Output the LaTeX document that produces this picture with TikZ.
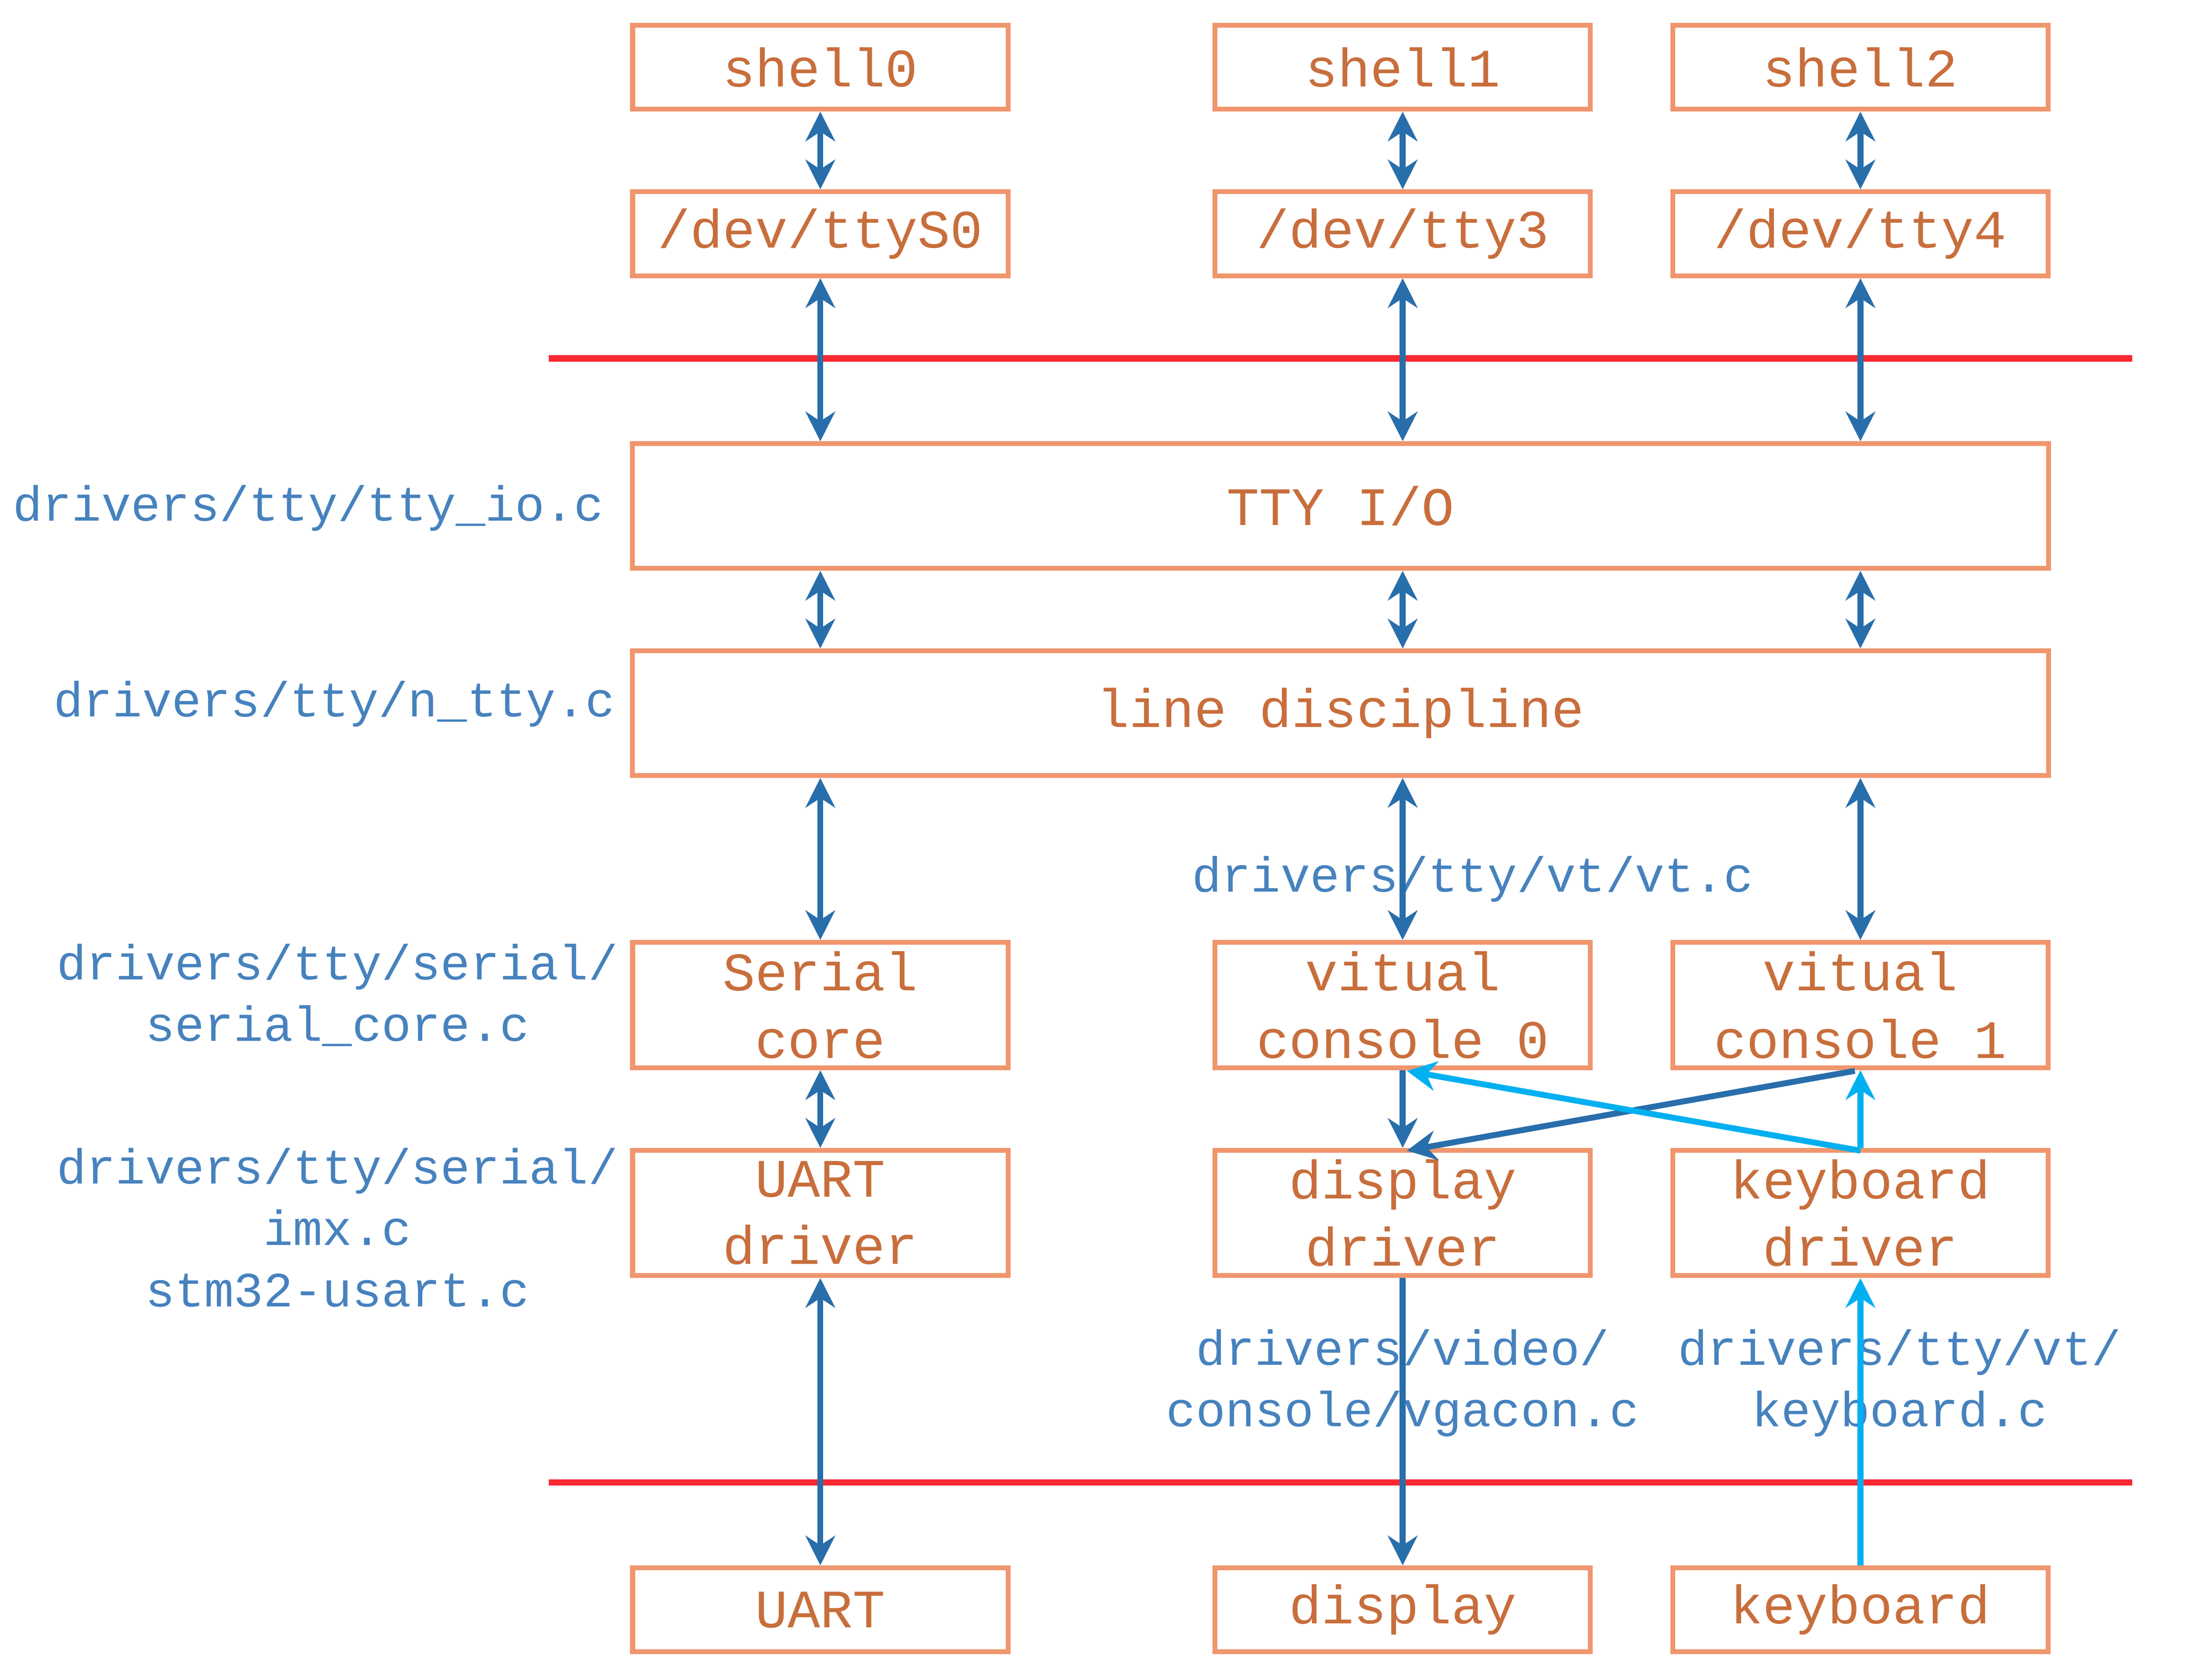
\documentclass[tikz,border=0pt]{standalone}
\usepackage{fontspec}
\setmainfont{Liberation Mono}
\usetikzlibrary{arrows.meta}
\definecolor{boxc}{RGB}{240,150,110}
\definecolor{txtc}{RGB}{200,110,60}
\definecolor{lblc}{RGB}{70,130,190}
\definecolor{arrc}{RGB}{40,110,170}
\definecolor{lblue}{RGB}{0,176,240}
\definecolor{redl}{RGB}{250,40,50}
\begin{document}
\begin{tikzpicture}[x=0.01cm,y=-0.01cm,
  box/.style={draw=boxc,line width=1pt,text=txtc,font=\fontsize{11pt}{13.7pt}\selectfont,inner sep=0pt,align=center},
  sm/.style={box,minimum width=2.68cm,minimum height=0.6cm},
  md/.style={box,minimum width=2.68cm,minimum height=0.895cm},
  wd/.style={box,minimum width=10.11cm,minimum height=0.89cm},
  lbl/.style={text=lblc,font=\fontsize{10pt}{12.5pt}\selectfont,inner sep=0pt,align=center},
  da/.style={draw=arrc,line width=1.2pt,{Stealth[length=6pt,width=6pt]}-{Stealth[length=6pt,width=6pt]}},
  sa/.style={draw=arrc,line width=1.2pt,-{Stealth[length=6pt,width=6pt]}},
  la/.style={draw=lblue,line width=1.2pt,-{Stealth[length=6pt,width=6pt]}}]
\useasboundingbox (0,0) rectangle (1568,1200);
\fill[white] (0,0) rectangle (1568,1200);
% rows
\node[sm] (s0) at (586,48) {shell0};
\node[sm] (s1) at (1002,48) {shell1};
\node[sm] (s2) at (1329,48) {shell2};
\node[sm] (d0) at (586,167) {/dev/ttyS0};
\node[sm] (d1) at (1002,167) {/dev/tty3};
\node[sm] (d2) at (1329,167) {/dev/tty4};
\node[wd] (tty) at (957.5,361.5) {TTY I/O};
\node[wd] (ld) at (957.5,509.5) {line discipline};
\node[md] (sc) at (586,718) {Serial\\core};
\node[md] (vc0) at (1002,718) {vitual\\console 0};
\node[md] (vc1) at (1329,718) {vitual\\console 1};
\node[md] (ud) at (586,866.5) {UART\\driver};
\node[md] (dd) at (1002,866.5) {display\\driver};
\node[md] (kd) at (1329,866.5) {keyboard\\driver};
\node[sm] (u) at (586,1150) {UART};
\node[sm] (dp) at (1002,1150) {display};
\node[sm] (kb) at (1329,1150) {keyboard};
% red lines
\coordinate (r1a) at (392,256); \coordinate (r1b) at (1523,256);
\coordinate (r2a) at (392,1059); \coordinate (r2b) at (1523,1059);
\draw[redl,line width=1.3pt] (r1a) -- (r1b);
\draw[redl,line width=1.3pt] (r2a) -- (r2b);
% labels
\node[lbl,anchor=east] (l1) at (432,363) {drivers/tty/tty\_io.c};
\node[lbl,anchor=east] (l2) at (440,503) {drivers/tty/n\_tty.c};
\node[lbl] (l3) at (241,711) {drivers/tty/serial/\\serial\_core.c};
\node[lbl] (l4) at (241,877) {drivers/tty/serial/\\imx.c\\stm32-usart.c};
\node[lbl] (l5) at (1052,628) {drivers/tty/vt/vt.c};
\node[lbl] (l6) at (1002,988) {drivers/video/\\console/vgacon.c};
\node[lbl] (l7) at (1357,988) {drivers/tty/vt/\\keyboard.c};
% arrows
\foreach \a/\b in {s0/d0,s1/d1,s2/d2,sc/ud,ud/u}{\draw[da] (\a) -- (\b);}
\draw[da] (d0.south) -- (d0.south|-tty.north);
\draw[da] (d1.south) -- (d1.south|-tty.north);
\draw[da] (d2.south) -- (d2.south|-tty.north);
\draw[da] (d0.south|-tty.south) -- (d0.south|-ld.north);
\draw[da] (d1.south|-tty.south) -- (d1.south|-ld.north);
\draw[da] (d2.south|-tty.south) -- (d2.south|-ld.north);
\draw[da] (sc.north|-ld.south) -- (sc.north);
\draw[da] (vc0.north|-ld.south) -- (vc0.north);
\draw[da] (vc1.north|-ld.south) -- (vc1.north);
\draw[sa] (vc0.south) -- (dd.north);
\draw[sa] (dd.south) -- (dp.north);
\draw[la] (kb.north) -- (kd.south);
\draw[la] (kd.north) -- (vc1.south);
\coordinate (x1) at (1325,765); \coordinate (x2) at (1005,822);
\coordinate (x3) at (1329,822); \coordinate (x4) at (1005,765);
\draw[sa] (x1) -- (x2);
\draw[la] (x3) -- (x4);
\end{tikzpicture}
\end{document}
